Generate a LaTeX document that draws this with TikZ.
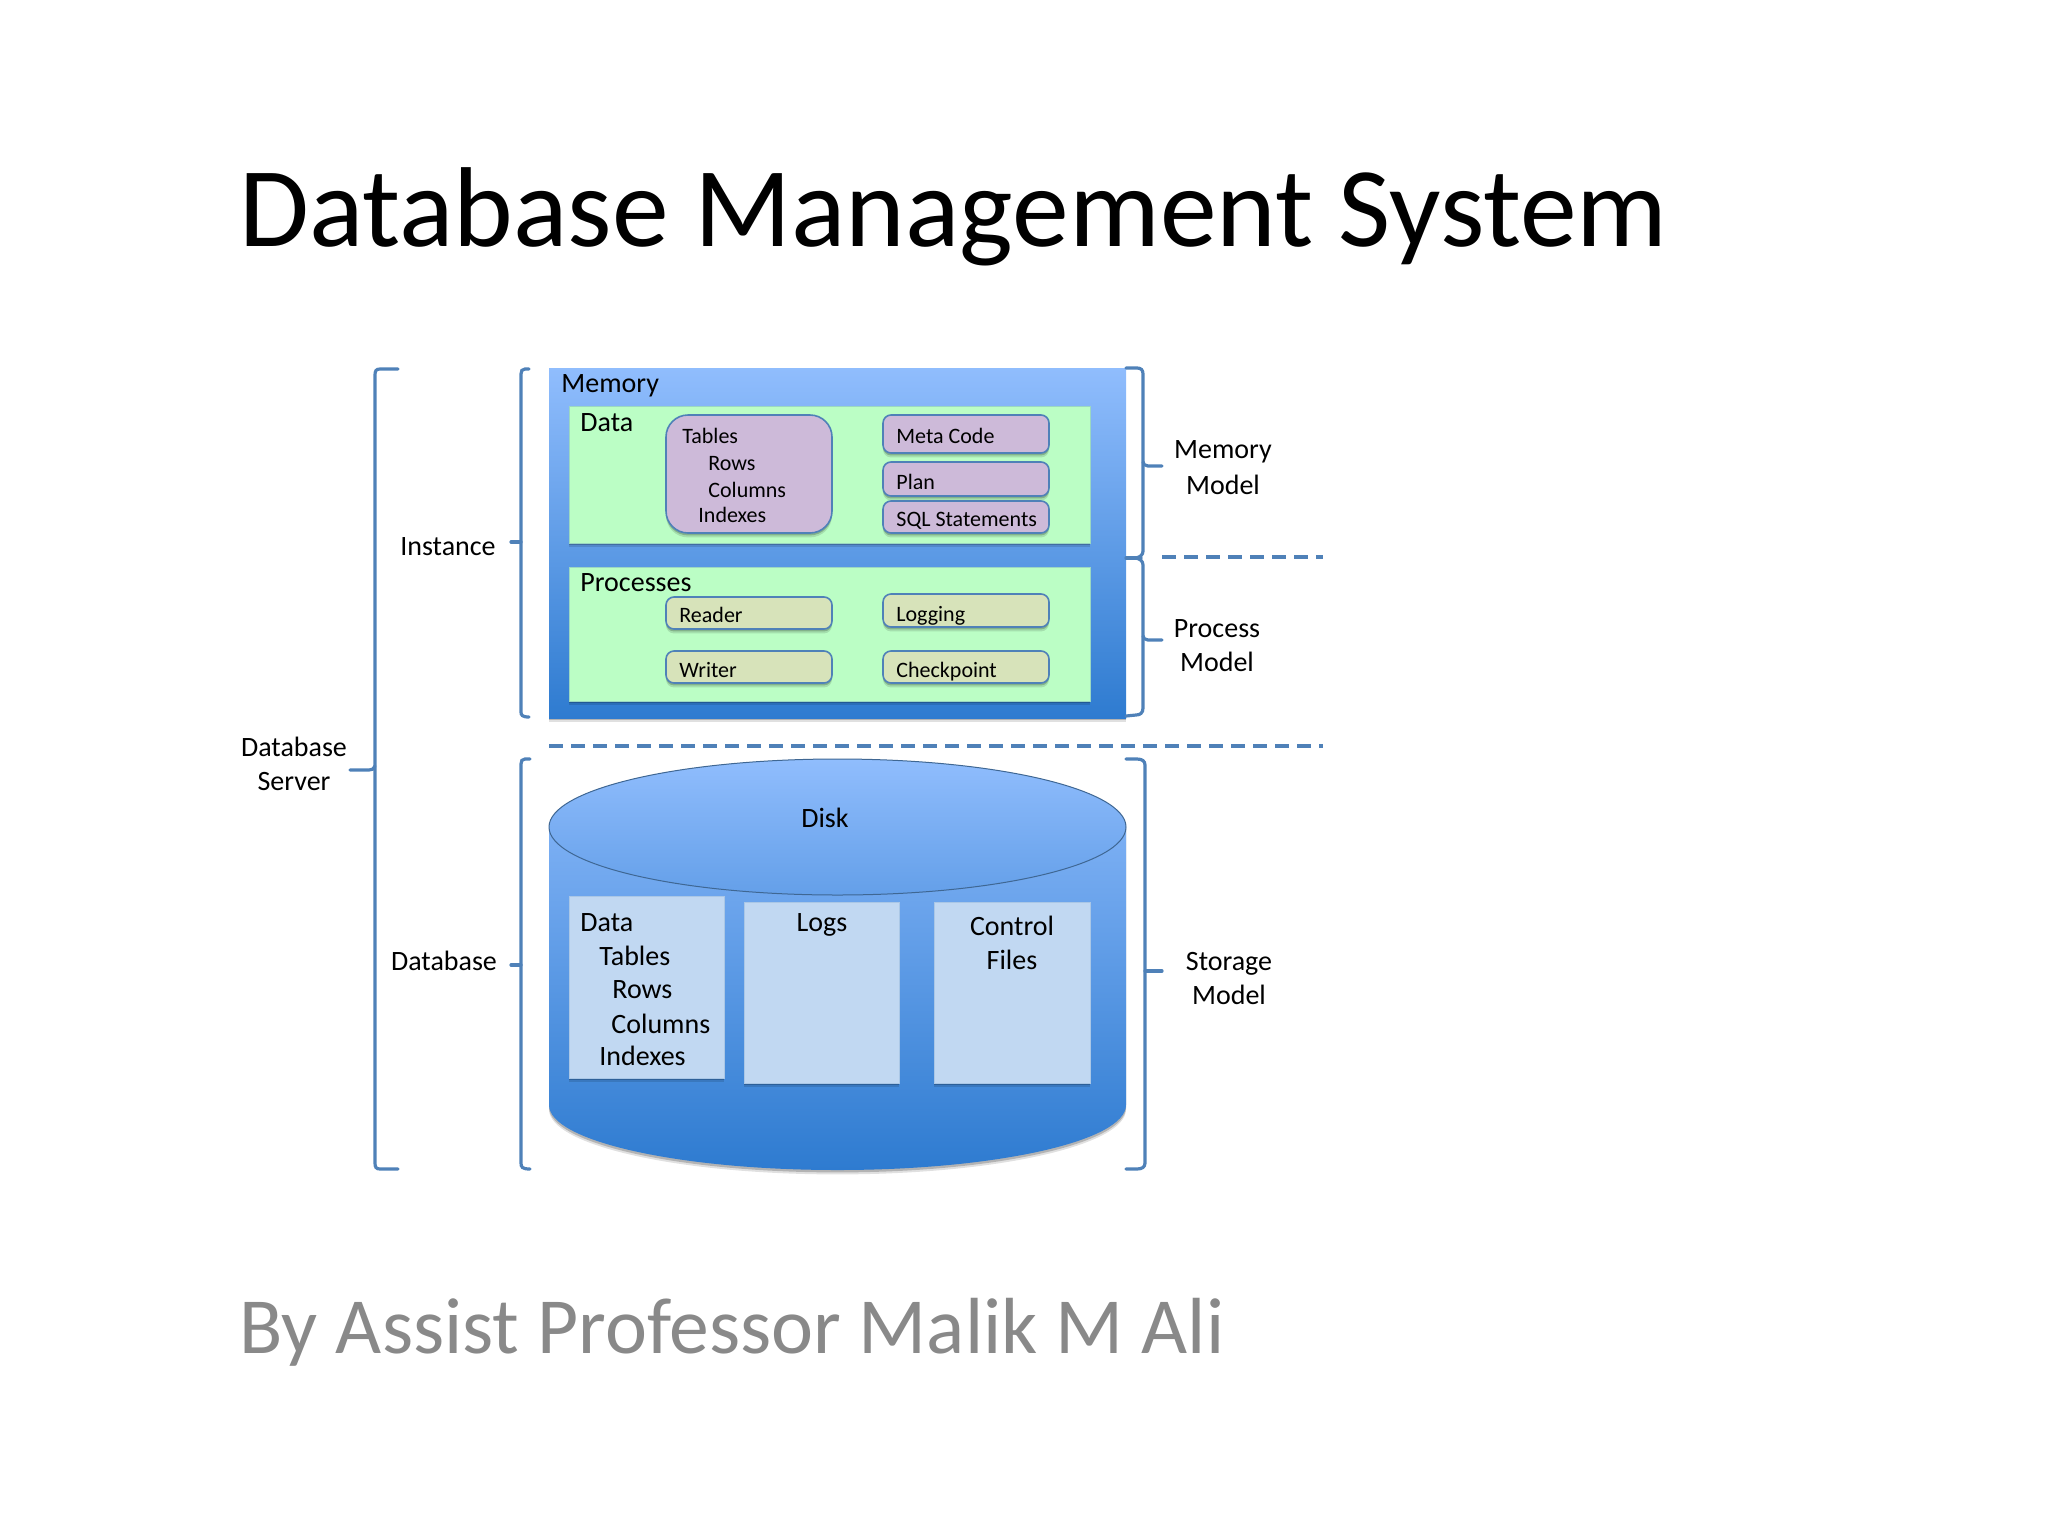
\documentclass[tikz,border=0pt]{standalone}
\usepackage{fontspec}
\setmainfont{Carlito}
\usetikzlibrary{shadows}
\definecolor{brace}{HTML}{4F81B8}
\definecolor{hi}{HTML}{90BDFD}
\definecolor{lo}{HTML}{2E7BD0}
\definecolor{mintg}{HTML}{BBFEC5}
\definecolor{lilac}{HTML}{CDBAD9}
\definecolor{sage}{HTML}{D7E3BA}
\definecolor{pale}{HTML}{C1D8F2}
\definecolor{sub}{HTML}{898989}
\tikzset{
  softshad/.style={
    drop shadow={shadow xshift=0pt,shadow yshift=-2.2pt,opacity=.12,fill=black},
    drop shadow={shadow xshift=0pt,shadow yshift=-1.2pt,opacity=.2,fill=black}},
  panel/.style={rectangle,inner sep=0pt,fill=mintg,draw=mintg!70!brace,line width=.4pt,softshad},
  filebox/.style={rectangle,inner sep=0pt,fill=pale,draw=pale!80!brace,line width=.4pt,softshad},
  pill/.style={rectangle,rounded corners=4pt,inner sep=0pt,draw=brace,line width=.8pt,softshad},
  bracket/.style={draw=brace,line width=1.6pt,line cap=round},
  divider/.style={draw=brace,line width=1.8pt,dash pattern=on 7pt off 4pt},
  lab/.style={inner sep=0pt,yshift=-1.5pt,font=\fontsize{14}{14}\selectfont,text height=.62em,text depth=0pt},
  sm/.style={lab,yshift=1pt,font=\fontsize{11}{11}\selectfont},
}
\begin{document}
\begin{tikzpicture}[x=0.5pt,y=-0.5pt]
\useasboundingbox (0,0) rectangle (2048,1536);
% title / subtitle
\node[anchor=base west,inner sep=0pt,font=\fontsize{56.8}{56.8}\selectfont] (title) at (239,246) {Database Management System};
\node[anchor=base west,inner sep=0pt,text=sub,font=\fontsize{39.8}{39.8}\selectfont] (subtitle) at (239,1353) {By Assist Professor Malik M Ali};
% memory
\node[rectangle,inner sep=0pt,minimum width=288.5pt,minimum height=175pt,top color=hi,bottom color=lo,softshad] (memory) at (837.5,543) {};
\node[panel,minimum width=260.5pt,minimum height=68.5pt] (datap) at (829.5,474.5) {};
\node[panel,minimum width=260.5pt,minimum height=67pt] (procp) at (829.5,634) {};
\node[pill,rounded corners=11pt,fill=lilac,minimum width=83pt,minimum height=59pt] (tables) at (749,474) {};
\node[pill,fill=lilac,minimum width=83pt,minimum height=19pt] (meta) at (966,434) {};
\node[pill,fill=lilac,minimum width=83pt,minimum height=17pt] (plan) at (966,479) {};
\node[pill,fill=lilac,minimum width=83pt,minimum height=16pt] (sql) at (966,517) {};
\node[pill,fill=sage,minimum width=83pt,minimum height=16pt] (reader) at (749,613) {};
\node[pill,fill=sage,minimum width=83pt,minimum height=16.5pt] (logging) at (966,610.5) {};
\node[pill,fill=sage,minimum width=83pt,minimum height=16pt] (writer) at (749,667) {};
\node[pill,fill=sage,minimum width=83pt,minimum height=16pt] (checkpoint) at (966,667) {};
\node[lab,anchor=west] (tmem) at (561,383) {Memory};
\node[lab,anchor=west] (tdata) at (580,422) {Data};
\node[lab,anchor=west] (tproc) at (580,582) {Processes};
\node[sm,anchor=west] (t1) at (682,436) {Tables};
\node[sm,anchor=west] (t2) at (708,463) {Rows};
\node[sm,anchor=west] (t3) at (708,490) {Columns};
\node[sm,anchor=west] (t4) at (698,515) {Indexes};
\node[sm,anchor=west] (t5) at (896,436) {Meta Code};
\node[sm,anchor=west] (t6) at (896,482) {Plan};
\node[sm,anchor=west] (t7) at (896,519) {SQL Statements};
\node[sm,anchor=west] (t8) at (679,615) {Reader};
\node[sm,anchor=west] (t9) at (896,614) {Logging};
\node[sm,anchor=west] (t10) at (679,670) {Writer};
\node[sm,anchor=west] (t11) at (896,670) {Checkpoint};
% cylinder
\path[top color=hi!80!lo,bottom color=lo,softshad] (549,827) -- (549,1105) arc[start angle=180,end angle=0,x radius=288.5,y radius=65] -- (1126,827) -- cycle;
\draw[top color=hi,bottom color=hi!55!lo,draw=brace!80!black,line width=.5pt] (837.5,827) ellipse[x radius=288.5,y radius=68];
\node[lab,anchor=center] (tdisk) at (825,818) {Disk};
\node[filebox,minimum width=77.5pt,minimum height=91pt] (fdata) at (646.5,987) {};
\node[filebox,minimum width=77.5pt,minimum height=90.5pt] (flogs) at (821.5,992.5) {};
\node[filebox,minimum width=78pt,minimum height=90.5pt] (fctrl) at (1012,992.5) {};
\node[lab,anchor=west] (d1) at (580,922) {Data};
\node[lab,anchor=west] (d2) at (599,956) {Tables};
\node[lab,anchor=west] (d3) at (612,989) {Rows};
\node[lab,anchor=west] (d4) at (611,1024) {Columns};
\node[lab,anchor=west] (d5) at (599,1056) {Indexes};
\node[lab,anchor=center] (l1) at (822,922) {Logs};
\node[lab,anchor=center] (c1) at (1012,926) {Control};
\node[lab,anchor=center] (c2) at (1012,960) {Files};
% dividers
\draw[divider] (549,746) -- (1323,746);
\draw[divider] (1162,557) -- (1323,557);
\draw[bracket] (1126,558) -- (1141,558);
% left brackets
\draw[bracket] (398,369) -- (380,369) .. controls (376,369) and (375,371) .. (375,375) -- (375,1163) .. controls (375,1167) and (376,1169) .. (380,1169) -- (398,1169);
\draw[bracket] (350,770) -- (369,770) .. controls (372,770) and (374,769) .. (375,766);
\draw[bracket] (529,369) -- (525,369) .. controls (522,369) and (521,371) .. (521,374) -- (521,712) .. controls (521,715) and (522,717) .. (529,717);
\draw[bracket] (511,542) -- (521,542);
\draw[bracket] (530,759) -- (525,759) .. controls (522,759) and (521,761) .. (521,764) -- (521,1163) .. controls (521,1167) and (522,1169) .. (530,1169);
\draw[bracket] (511,965) -- (521,965);
% right brackets
\draw[bracket] (1126,368) -- (1137,368) .. controls (1141,368) and (1143,370) .. (1143,374) -- (1143,551) .. controls (1143,555) and (1140,557) .. (1136,558) .. controls (1140,559) and (1143,561) .. (1143,565) -- (1143,708) .. controls (1143,713) and (1140,715) .. (1136,715) -- (1126,716);
\draw[bracket] (1162,466) -- (1148,466) .. controls (1145,466) and (1143,464) .. (1143,462);
\draw[bracket] (1162,640) -- (1148,640) .. controls (1145,640) and (1143,638) .. (1143,636);
\draw[bracket] (1126,759) -- (1137,759) .. controls (1142,759) and (1145,761) .. (1145,765) -- (1145,1163) .. controls (1145,1167) and (1142,1169) .. (1137,1169) -- (1126,1169);
\draw[bracket] (1162,971) -- (1145,971);
% side labels
\node[lab,anchor=center] (s1) at (448,546) {Instance};
\node[lab,anchor=center] (s2) at (444,961) {Database};
\node[lab,anchor=center] (s3) at (294,747) {Database};
\node[lab,anchor=center] (s4) at (294,781) {Server};
\node[lab,anchor=center] (s5) at (1223,449) {Memory};
\node[lab,anchor=center] (s6) at (1223,485) {Model};
\node[lab,anchor=center] (s7) at (1217,628) {Process};
\node[lab,anchor=center] (s8) at (1217,662) {Model};
\node[lab,anchor=center] (s9) at (1229,961) {Storage};
\node[lab,anchor=center] (s10) at (1229,995) {Model};
\end{tikzpicture}
\end{document}
